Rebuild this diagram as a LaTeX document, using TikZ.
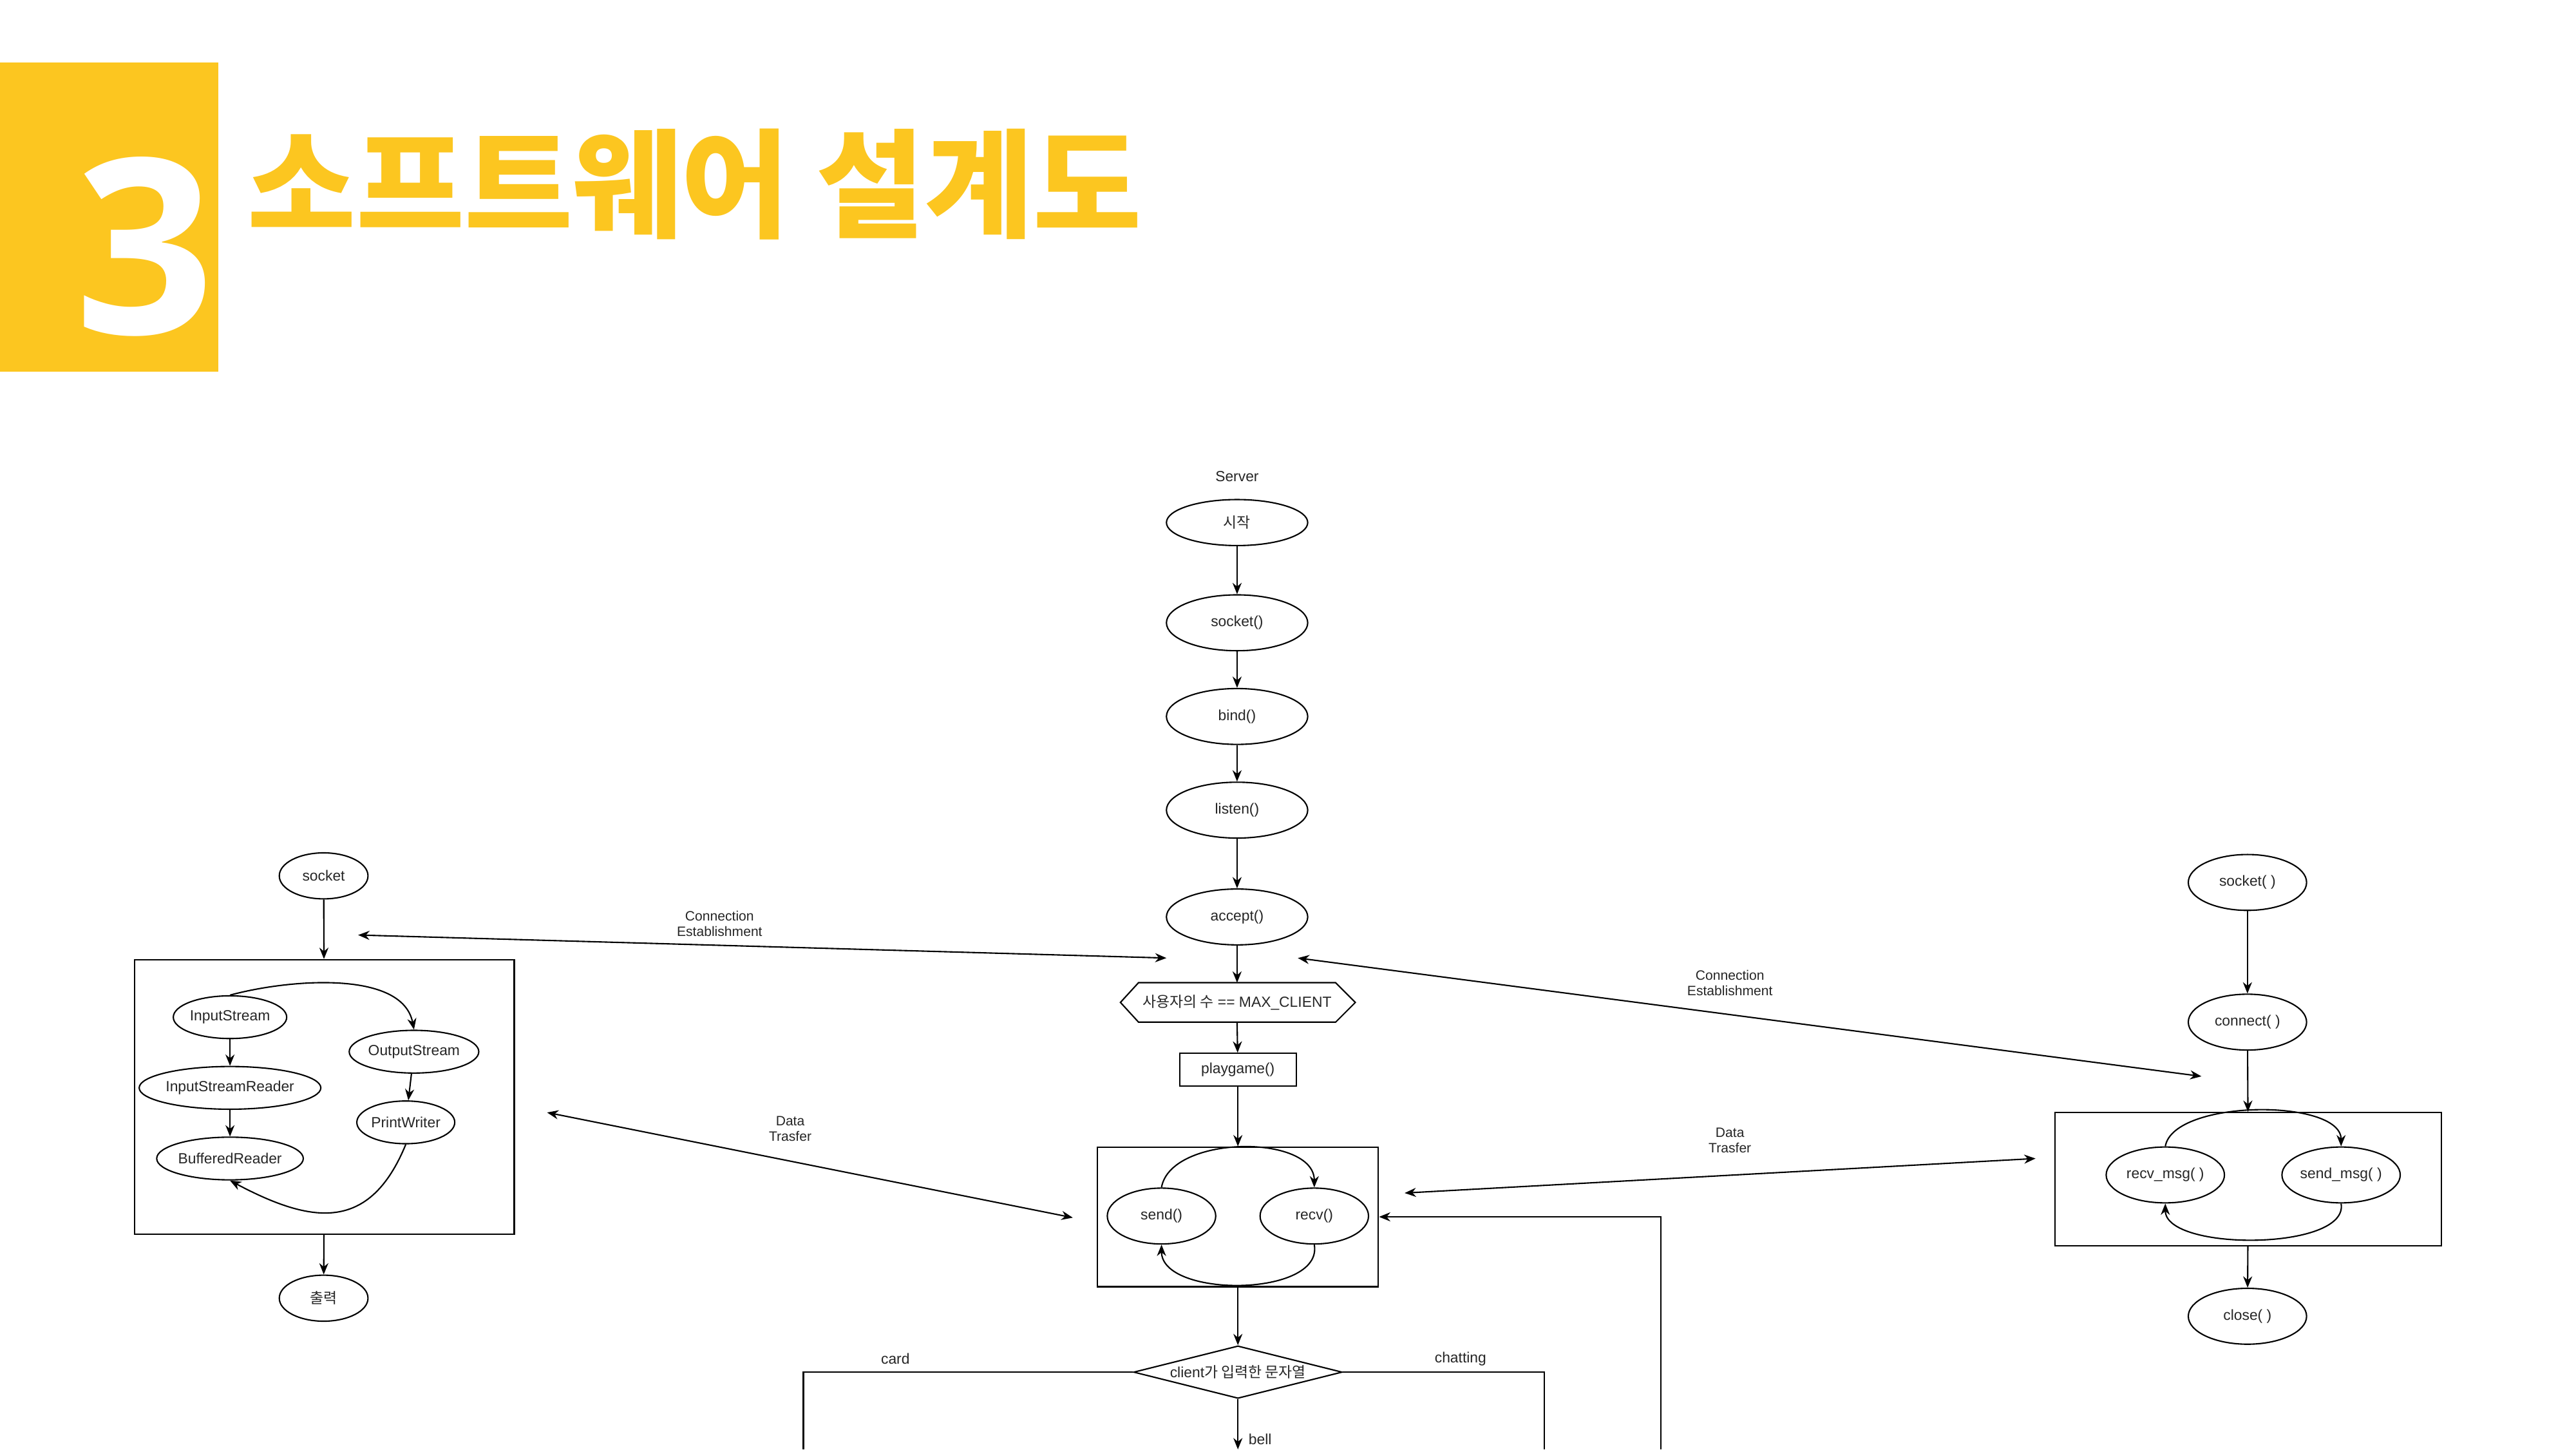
\documentclass[tikz,border=0pt]{standalone}
\usepackage{fontspec}
\setmainfont{Liberation Sans}
\newfontfamily\kr{Noto Sans CJK KR}
\newfontfamily\osans{Open Sans}
\usetikzlibrary{shapes.geometric,arrows.meta}
\definecolor{ylw}{HTML}{FCC620}
\newdimen\pxu \pxu=0.0255cm
\begin{document}
\begin{tikzpicture}[x=0.0255cm,y=-0.0255cm,
  every node/.style={font=\fontsize{6.5}{7.5}\selectfont, text=black!85},
  ell/.style={ellipse,draw,line width=0.6pt,inner sep=0pt},
  rbox/.style={draw,line width=0.6pt,inner sep=0pt},
  lbl/.style={align=center,font=\fontsize{6}{6.8}\selectfont},
  con/.style={line width=0.6pt,-{Stealth[length=5pt,width=4pt]}},
  bi/.style={line width=0.6pt,{Stealth[length=5pt,width=4pt]}-{Stealth[length=5pt,width=4pt]}}]
\useasboundingbox (0,0) rectangle (1568,882);
\fill[white] (0,0) rectangle (1568,882);
% title
\fill[ylw] (0,38) rectangle (133,226);
\node[text=white,font=\osans\bfseries\fontsize{108}{108}\selectfont] (num) at (88,150) {3};
\node[anchor=west,text=ylw,font=\kr\bfseries\fontsize{52}{56}\selectfont] (title) at (146,112) {소프트웨어 설계도};
% server column
\node (server) at (753,290) {Server};
\node[ell,minimum width=86\pxu,minimum height=28\pxu] (start) at (753,318) {\kr 시작};
\node[ell,minimum width=86\pxu,minimum height=34\pxu] (sock) at (753,379) {socket()};
\node[ell,minimum width=86\pxu,minimum height=34\pxu] (bind) at (753,436) {bind()};
\node[ell,minimum width=86\pxu,minimum height=34\pxu] (listen) at (753,493) {listen()};
\node[ell,minimum width=86\pxu,minimum height=34\pxu] (accept) at (753,558) {accept()};
\node[regular polygon,regular polygon sides=6,shape border rotate=0,draw=none] at (0,0) {};
\draw[line width=0.6pt] (682,610) -- (693,598) -- (813,598) -- (825,610) -- (813,622) -- (693,622) -- cycle;
\node (hex) at (753,610) {{\kr 사용자의 수} == MAX\_CLIENT};
\coordinate (hexT) at (753,598); \coordinate (hexB) at (753,622);
\node[rbox,minimum width=71\pxu,minimum height=20\pxu] (play) at (753.5,651) {playgame()};
\node[rbox,minimum width=171\pxu,minimum height=85\pxu] (sbox) at (753.5,740.5) {};
\node[ell,minimum width=66\pxu,minimum height=34\pxu] (send) at (707,740) {send()};
\node[ell,minimum width=66\pxu,minimum height=34\pxu] (recv) at (800,740) {recv()};
\node[diamond,draw,line width=0.6pt,aspect=4,minimum width=127\pxu,minimum height=32\pxu,inner sep=0pt] (dia) at (753.5,835) {};
\node at (753.5,835) {client{\kr 가 입력한 문자열}};
\draw[con] (start) -- (sock);
\draw[con] (sock) -- (bind);
\draw[con] (bind) -- (listen);
\draw[con] (listen) -- (accept);
\draw[con] (accept) -- (hexT);
\draw[con] (hexB) -- (play);
\draw[con] (play) -- (sbox);
\draw[con] (send.north) to[out=80,in=90,looseness=0.9] (recv.north);
\draw[con] (recv.south) to[out=-80,in=-90,looseness=0.9] (send.south);
\draw[con] (sbox) -- (dia);
\coordinate (cardE) at (489,882); \coordinate (chatE) at (940,882);
\coordinate (bellE) at (753.5,882); \coordinate (loopS) at (1011,882);
\draw[line width=0.6pt] (dia.west) -| (cardE);
\draw[line width=0.6pt] (dia.east) -| (chatE);
\draw[con] (dia.south) -- (bellE);
\draw[con] (loopS) |- (sbox.east);
\node (card) at (545,827) {card};
\node (chat) at (889,827) {chatting};
\node (bell) at (767,876) {bell};
% left client
\node[ell,minimum width=54\pxu,minimum height=28\pxu] (lsock) at (197,533) {socket};
\node[rbox,minimum width=231\pxu,minimum height=167\pxu] (lbox) at (197.5,667.5) {};
\node[ell,minimum width=54\pxu,minimum height=26\pxu] (is) at (140,619) {InputStream};
\node[ell,minimum width=78\pxu,minimum height=26\pxu] (isr) at (140,662) {InputStreamReader};
\node[ell,minimum width=64\pxu,minimum height=26\pxu] (br) at (140,705) {BufferedReader};
\node[ell,minimum width=64\pxu,minimum height=26\pxu] (os) at (252,640) {OutputStream};
\node[ell,minimum width=54\pxu,minimum height=26\pxu] (pw) at (247,683) {PrintWriter};
\node[ell,minimum width=54\pxu,minimum height=28\pxu] (out) at (197,790) {\kr 출력};
\draw[con] (lsock) -- (lbox);
\draw[con] (lbox) -- (out);
\draw[con] (is) -- (isr);
\draw[con] (isr) -- (br);
\draw[con] (os) -- (pw);
\draw[con] (is.north) .. controls (175,596) and (245,590) .. (os.north);
\draw[con] (pw.south) .. controls (225,750) and (190,745) .. (br.south);
% right client
\node[ell,minimum width=72\pxu,minimum height=34\pxu] (rsock) at (1368,537) {socket( )};
\node[ell,minimum width=72\pxu,minimum height=34\pxu] (conn) at (1368,622) {connect( )};
\node[rbox,minimum width=235\pxu,minimum height=81\pxu] (rbox) at (1368.5,717.5) {};
\node[ell,minimum width=72\pxu,minimum height=34\pxu] (rmsg) at (1318,715) {recv\_msg( )};
\node[ell,minimum width=72\pxu,minimum height=34\pxu] (smsg) at (1425,715) {send\_msg( )};
\node[ell,minimum width=72\pxu,minimum height=34\pxu] (close) at (1368,801) {close( )};
\draw[con] (rsock) -- (conn);
\draw[con] (conn) -- (rbox);
\draw[con] (rbox) -- (close);
\draw[con] (rmsg.north) to[out=80,in=90,looseness=0.7] (smsg.north);
\draw[con] (smsg.south) to[out=-80,in=-90,looseness=0.7] (rmsg.south);
% connections
\coordinate (c1a) at (218,569); \coordinate (c1b) at (710,583);
\coordinate (d1a) at (333,677); \coordinate (d1b) at (653,741);
\coordinate (c2a) at (790,583); \coordinate (c2b) at (1340,655);
\coordinate (d2a) at (855,726); \coordinate (d2b) at (1239,705);
\draw[bi] (c1a) -- (c1b);
\draw[bi] (d1a) -- (d1b);
\draw[bi] (c2a) -- (c2b);
\draw[bi] (d2a) -- (d2b);
\node[lbl] (l1) at (438,562) {Connection\\Establishment};
\node[lbl] (l2) at (481,687) {Data\\Trasfer};
\node[lbl] (l3) at (1053,598) {Connection\\Establishment};
\node[lbl] (l4) at (1053,694) {Data\\Trasfer};
\end{tikzpicture}
\end{document}
